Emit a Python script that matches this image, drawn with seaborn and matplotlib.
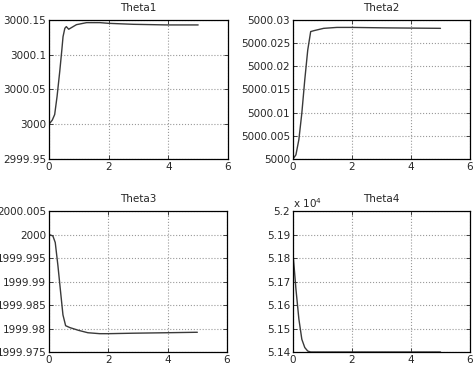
import numpy as np
import matplotlib
matplotlib.use('Agg')
import matplotlib.pyplot as plt
from matplotlib.ticker import FuncFormatter
import seaborn as sns

# Data
t1 = [0.0, 0.11, 0.19, 0.27, 0.36, 0.43, 0.47, 0.53, 0.58, 0.66, 0.75, 0.92,
      1.26, 1.71, 2.0, 2.83, 3.96, 5.0]
theta1 = [3000.0, 3000.006, 3000.014, 3000.040, 3000.076, 3000.107, 3000.126,
          3000.138, 3000.1405, 3000.1367, 3000.139, 3000.1433, 3000.1462,
          3000.1462, 3000.1452, 3000.1438, 3000.1429, 3000.1429]

t2 = [0.0, 0.1, 0.2, 0.3, 0.4, 0.5, 0.6, 0.71, 1.04, 1.49, 2.0, 3.16, 5.0]
theta2 = [5000.0, 5000.0009, 5000.0042, 5000.0099, 5000.0171, 5000.0235,
          5000.0275, 5000.0277, 5000.0282, 5000.0284, 5000.0284, 5000.0283,
          5000.0282]

t3 = [0.0, 0.13, 0.21, 0.3, 0.39, 0.47, 0.56, 0.7, 1.0, 1.31, 1.71, 2.0,
      2.83, 3.96, 5.0]
theta3 = [2000.0, 1999.9997, 1999.9983, 1999.9934, 1999.9878, 1999.9829,
          1999.9806, 1999.9802, 1999.9796, 1999.9791, 1999.9789, 1999.9789,
          1999.9790, 1999.9791, 1999.9792]

t4 = [0.0, 0.045, 0.1, 0.2, 0.3, 0.4, 0.5, 0.6, 1.0, 2.0, 3.0, 4.0, 5.0]
theta4 = [51817, 51753, 51668, 51540, 51454, 51419, 51404, 51400, 51400,
          51400, 51400, 51400, 51400]

titles = ['Theta1', 'Theta2', 'Theta3', 'Theta4']
xticks = [0, 2, 4, 6]
yticks1 = [2999.95, 3000.0, 3000.05, 3000.1, 3000.15]
yticks2 = [5000.0, 5000.005, 5000.01, 5000.015, 5000.02, 5000.025, 5000.03]
yticks3 = [1999.975, 1999.98, 1999.985, 1999.99, 1999.995, 2000.0, 2000.005]
yticks4 = [51400, 51500, 51600, 51700, 51800, 51900, 52000]

sns.set_style('ticks')
plt.rcParams['font.family'] = ['DejaVu Sans']

fig = plt.figure(figsize=(4.74, 3.65), dpi=100)

# axes positions (left, bottom, width, height)
boxes = [
    [0.1034, 0.5644, 0.3776, 0.3808],
    [0.6181, 0.5644, 0.3734, 0.3808],
    [0.1034, 0.0356, 0.3755, 0.3863],
    [0.6181, 0.0356, 0.3734, 0.3863],
]
series = [(t1, theta1, yticks1), (t2, theta2, yticks2),
          (t3, theta3, yticks3), (t4, theta4, yticks4)]

fs = 7.5
for i, (box, (t, y, yt)) in enumerate(zip(boxes, series)):
    ax = fig.add_axes(box)
    sns.lineplot(x=t, y=y, ax=ax, color='#3a3a3a', linewidth=1.0)
    ax.set_xlim(0, 6)
    ax.set_ylim(yt[0], yt[-1])
    ax.set_xticks(xticks)
    ax.set_yticks(yt)
    if i == 3:
        ax.yaxis.set_major_formatter(
            FuncFormatter(lambda v, p: f'{round(v / 1e4, 6):.12g}'))
        ax.text(0.0, 1.005, r'x 10$^{4}$', transform=ax.transAxes,
                fontsize=fs, ha='left', va='bottom')
    else:
        ax.yaxis.set_major_formatter(
            FuncFormatter(lambda v, p: f'{round(v, 6):.12g}'))
    ax.grid(True, linestyle=':', color='#999999', linewidth=0.8)
    ax.tick_params(direction='in', length=3, width=0.6, labelsize=fs,
                   top=True, right=True, pad=2)
    for s in ax.spines.values():
        s.set_color('black')
        s.set_linewidth(0.9)
        s.set_visible(True)
    ax.set_title(titles[i], fontsize=fs, pad=6.5)

plt.savefig('out.png', dpi=100)
